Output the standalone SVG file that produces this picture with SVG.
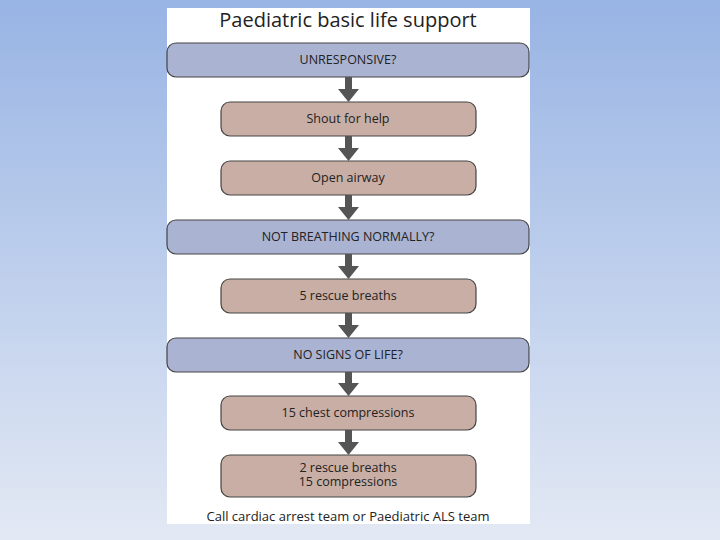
<svg xmlns="http://www.w3.org/2000/svg" width="720" height="540" viewBox="0 0 720 540">
<defs>
<linearGradient id="bg" x1="0" y1="0" x2="0" y2="1">
<stop offset="0" stop-color="#98b4e4"/><stop offset="1" stop-color="#e3e9f4"/>
</linearGradient>
</defs>
<style>
text{font-family:"Open Sans","DejaVu Sans",sans-serif;fill:#222;text-anchor:middle}
.q rect{fill:#aab3d1;stroke:#444;stroke-width:1.2}
.a rect{fill:#c9aea5;stroke:#444;stroke-width:1.2}
.n text{font-size:12.5px}
.arr path{fill:#555}
</style>
<rect width="720" height="540" fill="url(#bg)"/>
<rect x="167" y="8" width="363" height="516" fill="#fff"/>
<text x="348" y="27" style="font-size:20px">Paediatric  basic life support</text>
<g id="n1" class="n q"><rect x="167" y="43" width="362" height="34" rx="9"/><text x="348" y="64">UNRESPONSIVE?</text></g>
<g id="n2" class="n a"><rect x="221" y="102" width="255" height="34" rx="9"/><text x="348" y="123">Shout for help</text></g>
<g id="n3" class="n a"><rect x="221" y="161" width="255" height="34" rx="9"/><text x="348" y="182">Open airway</text></g>
<g id="n4" class="n q"><rect x="167" y="220" width="362" height="34" rx="9"/><text x="348" y="241">NOT BREATHING NORMALLY?</text></g>
<g id="n5" class="n a"><rect x="221" y="279" width="255" height="34" rx="9"/><text x="348" y="300">5 rescue breaths</text></g>
<g id="n6" class="n q"><rect x="167" y="338" width="362" height="34" rx="9"/><text x="348" y="359">NO SIGNS OF LIFE?</text></g>
<g id="n7" class="n a"><rect x="221" y="396" width="255" height="34" rx="9"/><text x="348" y="417">15 chest compressions</text></g>
<g id="n8" class="n a"><rect x="221" y="455" width="255" height="42" rx="9"/><text x="348" y="472">2 rescue breaths</text><text x="348" y="486">15 compressions</text></g>
<text x="348" y="521" style="font-size:13px">Call cardiac arrest team or Paediatric ALS team</text>
<g id="connectors" class="arr">
<path d="M345 77h7v12h7l-10.5 13l-10.5-13h7z"/>
<path d="M345 136h7v12h7l-10.5 13l-10.5-13h7z"/>
<path d="M345 195h7v12h7l-10.5 13l-10.5-13h7z"/>
<path d="M345 254h7v12h7l-10.5 13l-10.5-13h7z"/>
<path d="M345 313h7v12h7l-10.5 13l-10.5-13h7z"/>
<path d="M345 372h7v11h7l-10.5 13l-10.5-13h7z"/>
<path d="M345 430h7v12h7l-10.5 13l-10.5-13h7z"/>
</g>
</svg>
